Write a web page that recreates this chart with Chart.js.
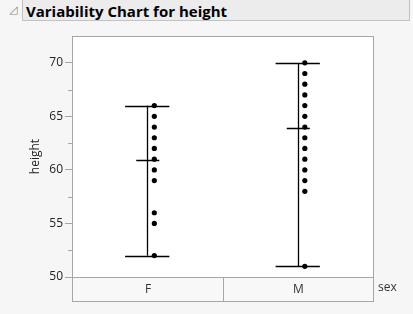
<!DOCTYPE html>
<html>
<head>
<meta charset="utf-8">
<script src="https://cdn.jsdelivr.net/npm/chart.js@4/dist/chart.umd.min.js"></script>
<style>
  html, body { margin: 0; padding: 0; background: #f6f6f6; }
  #wrap { position: relative; width: 413px; height: 314px; overflow: hidden; }
  #bar {
    position: absolute; left: 22px; top: -1px; width: 388px; height: 22px;
    background: #ececec; border: 1px solid #c2c2c2;
    font: bold 15px "Open Sans", sans-serif; color: #000;
    line-height: 22px; padding-left: 3px; box-sizing: border-box;
  }
  #tri { position: absolute; left: 9px; top: 3px; font: 11px "DejaVu Sans"; color: #888; }
  canvas { position: absolute; left: 0; top: 0; }
</style>
</head>
<body>
<div id="wrap">
  <div id="tri">&#x25FF;</div>
  <div id="bar">Variability Chart for height</div>
  <canvas id="chart" width="413" height="314"></canvas>
</div>
<script>
// valores
const categories = ['F', 'M'];
const heightsF = [52, 55, 56, 59, 60, 61, 62, 63, 64, 65, 66];
const heightsM = [51, 58, 59, 60, 61, 62, 63, 64, 65, 66, 67, 68, 69, 70];
const groupMeans = [60.89, 63.91];
const yTicks = [50, 55, 60, 65, 70];
const yMinorTicks = [52.5, 57.5, 62.5, 67.5];
const xTitle = 'sex';
const yTitle = 'height';

const groups = [heightsF, heightsM];
const dotShift = 0.047;   // puntos un poco a la derecha del eje de rango
const capHalf = 0.147;
const meanLeft = 0.073, meanRight = 0.08;

const rangePlugin = {
  id: 'ranges',
  beforeDraw(chart) {
    const { ctx, chartArea: a } = chart;
    ctx.save();
    ctx.fillStyle = '#ffffff';
    ctx.fillRect(a.left, a.top, a.right - a.left, a.bottom - a.top);
    ctx.restore();
  },
  afterDatasetsDraw(chart) {
    const { ctx, scales: { x, y } } = chart;
    ctx.save();
    ctx.strokeStyle = '#000';
    ctx.lineWidth = 1.3;
    groups.forEach((vals, i) => {
      const c = i + 0.5;
      const lo = Math.min(...vals), hi = Math.max(...vals);
      const cx = Math.round(x.getPixelForValue(c)) + 0.5;
      ctx.beginPath();
      ctx.moveTo(cx, y.getPixelForValue(lo));
      ctx.lineTo(cx, y.getPixelForValue(hi));
      [lo, hi].forEach(v => {
        const py = Math.round(y.getPixelForValue(v)) + 0.5;
        ctx.moveTo(x.getPixelForValue(c - capHalf), py);
        ctx.lineTo(x.getPixelForValue(c + capHalf), py);
      });
      const my = Math.round(y.getPixelForValue(groupMeans[i])) + 0.5;
      ctx.moveTo(x.getPixelForValue(c - meanLeft), my);
      ctx.lineTo(x.getPixelForValue(c + meanRight), my);
      ctx.stroke();
    });
    ctx.restore();
  },
  afterDraw(chart) {
    const { ctx, chartArea: a, scales: { x, y } } = chart;
    ctx.save();
    ctx.strokeStyle = '#a6a6a6';
    ctx.lineWidth = 1;
    ctx.strokeRect(Math.round(a.left) + 0.5, Math.round(a.top) + 0.5,
      Math.round(a.right - a.left), Math.round(a.bottom - a.top));
    // ticks menores
    ctx.beginPath();
    yMinorTicks.forEach(v => {
      const py = Math.round(y.getPixelForValue(v)) + 0.5;
      ctx.moveTo(a.left - 4, py);
      ctx.lineTo(a.left, py);
    });
    ctx.stroke();
    // banda de categorias
    const top = Math.round(a.bottom) + 0.5;
    const h = 24;
    ctx.font = '12px "Open Sans", sans-serif';
    ctx.textAlign = 'center';
    ctx.textBaseline = 'middle';
    categories.forEach((cat, i) => {
      const l = Math.round(x.getPixelForValue(i)) + 0.5;
      const r = Math.round(x.getPixelForValue(i + 1)) + 0.5;
      ctx.fillStyle = '#f8f8f8';
      ctx.fillRect(l, top, r - l, h);
      ctx.strokeRect(l, top, r - l, h);
      ctx.fillStyle = '#333';
      ctx.fillText(cat, (l + r) / 2, top + h / 2);
    });
    ctx.textAlign = 'left';
    ctx.fillText(xTitle, a.right + 5, top + 10);
    ctx.restore();
  }
};

const ctx = document.getElementById('chart').getContext('2d');
new Chart(ctx, {
  type: 'scatter',
  data: {
    datasets: groups.map((vals, i) => ({
      label: categories[i],
      data: vals.map(v => ({ x: i + 0.5 + dotShift, y: v })),
      backgroundColor: '#000',
      borderColor: '#000',
      borderWidth: 0,
      pointRadius: 2.6,
      pointHoverRadius: 2.6
    }))
  },
  options: {
    responsive: false,
    animation: false,
    layout: { padding: { left: 0, right: 40, top: 36, bottom: 37 } },
    plugins: { legend: { display: false }, tooltip: { enabled: false } },
    scales: {
      x: { type: 'linear', min: 0, max: 2, display: false },
      y: {
        min: 50, max: 72.5,
        afterBuildTicks: s => { s.ticks = yTicks.map(v => ({ value: v })); },
        afterFit: s => { s.width = 72; },
        grid: { drawOnChartArea: false, tickLength: 7, color: '#a6a6a6' },
        border: { color: '#a6a6a6' },
        ticks: { padding: 2, color: '#222', font: { family: 'Open Sans', size: 12 } },
        title: { display: true, text: yTitle, color: '#222', padding: { top: 28, bottom: 0 },
          font: { family: 'Open Sans', size: 12 } }
      }
    }
  },
  plugins: [rangePlugin]
});
</script>
</body>
</html>
